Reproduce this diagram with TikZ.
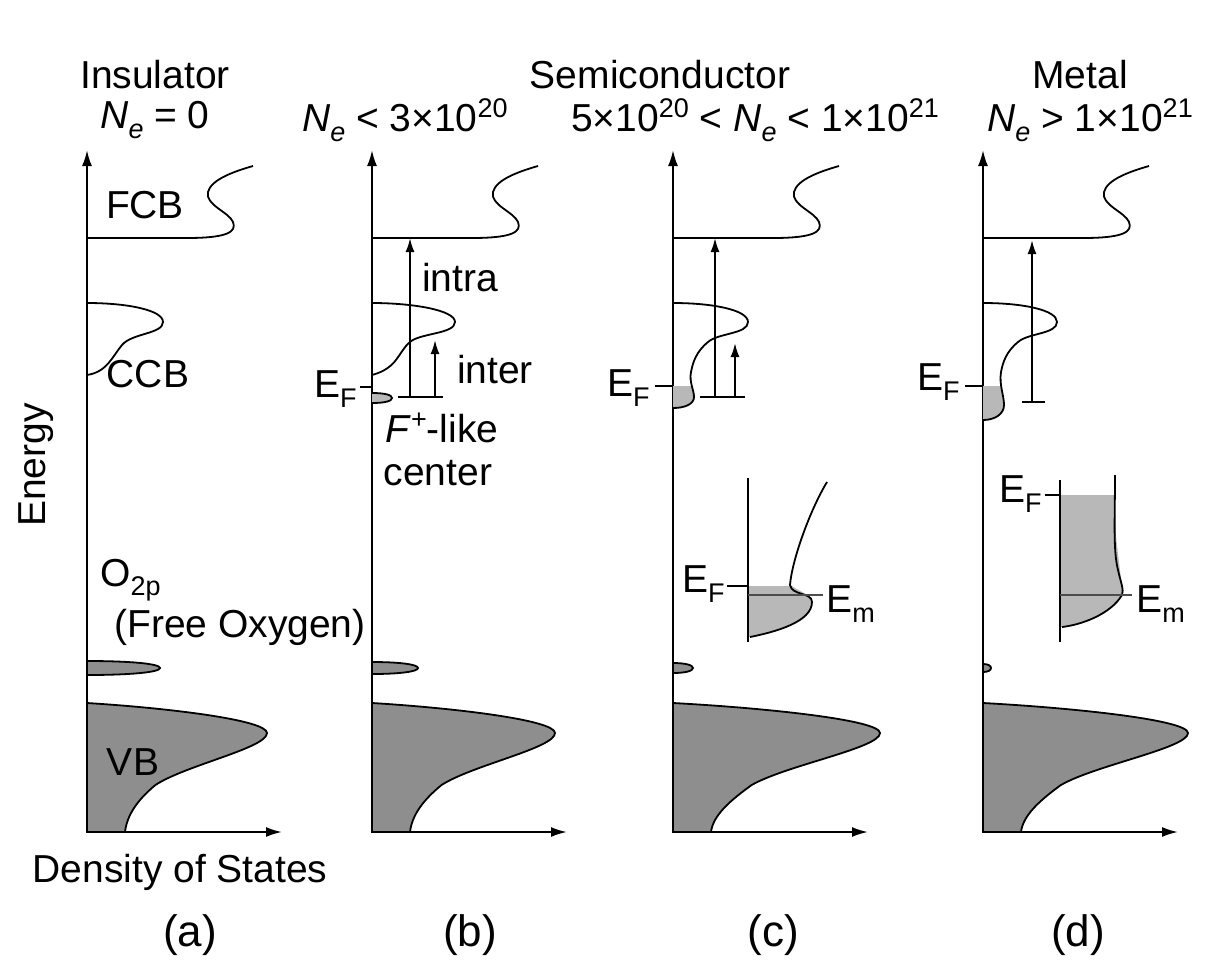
\documentclass[tikz,border=0pt]{standalone}
\usepackage{fontspec}
\setmainfont{Liberation Sans}
\usetikzlibrary{arrows.meta}
\newcommand\sbs[1]{\raisebox{-0.45ex}{\fontsize{13.5}{13.5}\selectfont #1}}
\newcommand\sps[1]{\raisebox{0.7ex}{\fontsize{13.5}{13.5}\selectfont #1}}
\definecolor{dk}{HTML}{8E8E8E}
\definecolor{lt}{HTML}{B8B8B8}
\begin{document}
\begin{tikzpicture}[x=0.5pt,y=-0.5pt,
  ln/.style={line width=0.9pt},
  ax/.style={line width=1pt,-{Latex[length=8pt,width=5pt]}},
  arr/.style={line width=1pt,-{Latex[length=7pt,width=4.5pt]}},
  txt/.style={font=\fontsize{19.5}{22}\selectfont,inner sep=0pt},
  big/.style={font=\fontsize{22}{25}\selectfont,inner sep=0pt}]
\useasboundingbox (0,0) rectangle (1227,964);
\fill[white] (0,0) rectangle (1227,964);
% titles
\node[txt] (t1) at (155,75) {Insulator};
\node[txt] (t2) at (660,75) {Semiconductor};
\node[txt] (t3) at (1080,75) {Metal};
\node[txt] (n1) at (155,120) {\textit{N}\sbs{\textit{e}} = 0};
\node[txt] (n2) at (405,120) {\textit{N}\sbs{\textit{e}} < 3×10\sps{20}};
\node[txt] (n3) at (755,120) {5×10\sps{20} < \textit{N}\sbs{\textit{e}} < 1×10\sps{21}};
\node[txt] (n4) at (1090,120) {\textit{N}\sbs{\textit{e}} > 1×10\sps{21}};
\node[txt,rotate=90] (en) at (36,465) {Energy};
\node[txt] (dos) at (180,872) {Density of States};
\node[big] (la) at (190,935) {(a)};
\node[big] (lb) at (470,935) {(b)};
\node[big] (lc) at (773,935) {(c)};
\node[big] (ld) at (1078,935) {(d)};
% common panels
\foreach \X/\vb/\ox/\oh in {87/180/73/7, 372/183/46/6, 673/207/20/5, 983/205/8/4}{
\begin{scope}[shift={(\X,0)}]
  \draw[ax] (0,832) -- (0,150);
  \draw[ax] (0,832) -- (195,832);
  \draw[ln] (0,238) -- (100,238) .. controls (140,238) and (150,232) .. (146,222)
     .. controls (142,212) and (118,205) .. (121,192) .. controls (124,180) and (145,172) .. (166,166);
  \filldraw[ln,fill=dk] (0,668-\oh) .. controls (0.6*\ox,668-\oh) and (\ox,668-0.6*\oh) .. (\ox,668)
     .. controls (\ox,668+0.6*\oh) and (0.6*\ox,668+\oh) .. (0,668+\oh) -- cycle;
  \filldraw[ln,fill=dk] (0,703) .. controls ({0.45*\vb},708) and (\vb,720) .. (\vb,733)
     .. controls (\vb,748) and ({0.55*\vb},765) .. ({0.38*\vb},785)
     .. controls ({0.28*\vb},800) and (40,815) .. (38,832) -- (0,832) -- cycle;
\end{scope}}
% panel a
\draw[ln] (87,303) .. controls (127,303) and (163,310) .. (163,322) .. controls (163,334) and (132,333) .. (122,345) .. controls (112,357) and (107,372) .. (87,375);
\node[txt] (fcb) at (145,205) {FCB};
\node[txt] (ccb) at (148,374) {CCB};
\node[txt,anchor=west] (o2p) at (100,580) {O\sbs{2p}};
\node[txt] (fox) at (240,627) {(Free Oxygen)};
\node[txt] (vb) at (133,762) {VB};
% panel b
\draw[ln] (372,303) .. controls (412,303) and (455,310) .. (455,322) .. controls (455,334) and (420,333) .. (410,342) .. controls (398,352) and (398,368) .. (372,375);
\filldraw[ln,fill=lt] (372,393) .. controls (385,393) and (392,395) .. (392,398) .. controls (392,401) and (385,403) .. (372,403);
\draw[ln] (360,387) -- (372,387);
\node[txt,anchor=east] (efb) at (357,389) {E\sbs{F}};
\draw[ln] (398,397) -- (443,397);
\draw[arr] (410,397) -- (410,238);
\draw[arr] (435,397) -- (435,340);
\node[txt] (intra) at (460,278) {intra};
\node[txt] (inter) at (495,370) {inter};
\node[txt] (fl) at (442,428) {\textit{F}\sps{+}-like};
\node[txt] (cen) at (438,473) {center};
% panel c
\begin{scope}
\clip (673,386) rectangle (720,420);
\fill[lt] (673,303) .. controls (713,303) and (748,310) .. (748,322) .. controls (748,334) and (718,333) .. (708,342) .. controls (696,352) and (693,362) .. (691,372) .. controls (689,382) and (694,390) .. (694,397) .. controls (694,404) and (685,408) .. (673,408) -- cycle;
\end{scope}
\draw[ln] (673,303) .. controls (713,303) and (748,310) .. (748,322) .. controls (748,334) and (718,333) .. (708,342) .. controls (696,352) and (693,362) .. (691,372) .. controls (689,382) and (694,390) .. (694,397) .. controls (694,404) and (685,408) .. (673,408);
\draw[ln] (655,386) -- (673,386);
\node[txt,anchor=east] (efc) at (650,388) {E\sbs{F}};
\draw[ln] (700,397) -- (745,397);
\draw[arr] (715,397) -- (715,238);
\draw[arr] (735,397) -- (735,343);
% inset c
\fill[lt] (748,586) -- (792,586) .. controls (800,592) and (812,595) .. (812,602) .. controls (812,622) and (775,632) .. (748,637) -- cycle;
\draw[ln] (748,478) -- (748,642);
\draw[ln] (827,482) .. controls (810,510) and (792,560) .. (790,585) .. controls (792,596) and (812,592) .. (812,602) .. controls (812,622) and (775,632) .. (750,637);
\draw[ln] (727,586) -- (748,586);
\draw[line width=1.4pt,black!70] (748,595) -- (823,595);
\node[txt,anchor=east] (efci) at (725,584) {E\sbs{F}};
\node[txt,anchor=west] (emc) at (826,604) {E\sbs{m}};
% panel d
\begin{scope}
\clip (983,386) rectangle (1030,425);
\fill[lt] (983,303) .. controls (1023,303) and (1057,310) .. (1057,322) .. controls (1057,334) and (1028,333) .. (1018,342) .. controls (1006,352) and (1003,362) .. (1001,372) .. controls (999,385) and (1004,395) .. (1004,405) .. controls (1004,414) and (995,420) .. (983,420) -- cycle;
\end{scope}
\draw[ln] (983,303) .. controls (1023,303) and (1057,310) .. (1057,322) .. controls (1057,334) and (1028,333) .. (1018,342) .. controls (1006,352) and (1003,362) .. (1001,372) .. controls (999,385) and (1004,395) .. (1004,405) .. controls (1004,414) and (995,420) .. (983,420);
\draw[ln] (965,386) -- (983,386);
\node[txt,anchor=east] (efd) at (960,382) {E\sbs{F}};
\draw[ln] (1022,402) -- (1045,402);
\draw[arr] (1032,402) -- (1032,240);
% inset d
\fill[lt] (1060,495) -- (1114,495) .. controls (1113,530) and (1122,575) .. (1122,595) .. controls (1110,615) and (1080,625) .. (1060,627) -- cycle;
\draw[ln] (1060,480) -- (1060,642);
\draw[ln] (1115,475) .. controls (1115,520) and (1113,550) .. (1118,570) .. controls (1121,583) and (1124,590) .. (1122,595) .. controls (1110,615) and (1080,625) .. (1062,627);
\draw[ln] (1045,495) -- (1060,495);
\draw[line width=1.4pt,black!70] (1060,595) -- (1132,595);
\node[txt,anchor=east] (efdi) at (1042,494) {E\sbs{F}};
\node[txt,anchor=west] (emd) at (1136,604) {E\sbs{m}};
\end{tikzpicture}
\end{document}
